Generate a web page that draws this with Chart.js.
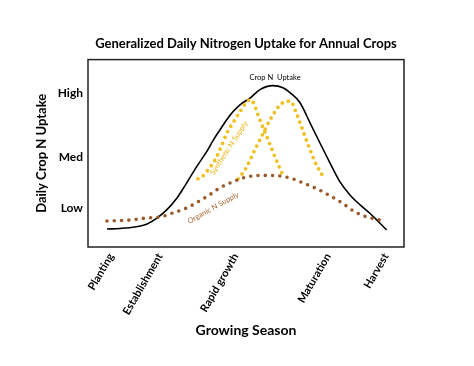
<!DOCTYPE html>
<html><head><meta charset="utf-8">
<script src="https://cdn.jsdelivr.net/npm/chart.js@4/dist/chart.umd.min.js"></script>
<style>html,body{margin:0;padding:0;background:#fff;}#wrap{width:474px;height:366px;}</style>
</head><body><div id="wrap"><canvas id="c" width="474" height="366"></canvas></div>
<script>
// ---- data ----
const xTickLabels = ['Planting', 'Establishment', 'Rapid growth', 'Maturation', 'Harvest'];
const xTickValues = [7.3, 22.8, 46.8, 76, 94.3];
const yTickLabels = ['Low', 'Med', 'High'];
const yTickValues = [21, 48, 82];

const cropX = [6.0, 10.1, 14.9, 18.7, 21.7, 24.9, 28.1, 31.2, 34.4, 37.6, 39.7, 41.8, 43.9, 46.0, 48.1, 51.3, 54.4, 58.5, 61.7, 63.9, 67.1, 70.3, 73.4, 76.6, 79.7, 82.9, 86.1, 89.2, 92.4, 94.5];
const cropY = [9.6, 9.9, 10.7, 12.3, 15.3, 19.8, 26.0, 34.1, 42.9, 51.0, 57.2, 62.6, 67.9, 72.4, 75.9, 79.5, 84.0, 86.1, 85.0, 82.4, 77.0, 66.1, 55.5, 44.8, 34.9, 27.8, 22.5, 18.0, 12.7, 9.1];

const organicX = [6.0, 13.3, 18.7, 22.8, 26.9, 31.3, 34.8, 38.0, 41.8, 45.9, 50.3, 56.6, 63.9, 68.0, 72.5, 76.6, 80.4, 84.5, 88.3, 92.4];
const organicY = [13.9, 14.4, 15.5, 16.0, 18.2, 20.9, 24.1, 27.3, 31.6, 34.8, 37.4, 38.2, 36.9, 34.2, 31.0, 27.3, 23.5, 18.7, 16.0, 14.4];

const synth1X = [34.8, 36.4, 38.0, 40.2, 42.4, 44.0, 45.9, 48.1, 50.3, 51.6, 52.5, 53.8, 55.4, 57.0, 58.5, 60.1, 61.7];
const synth1Y = [36.4, 38.0, 41.2, 46.5, 54.5, 61.0, 66.3, 72.2, 77.5, 78.6, 76.5, 70.6, 63.6, 57.2, 50.8, 44.4, 38.0];

const synth2X = [47.5, 49.7, 51.3, 52.8, 54.4, 56.0, 57.6, 59.2, 60.8, 62.3, 63.6, 64.6, 65.5, 66.5, 67.7, 68.7, 70.3, 71.8, 74.1];
const synth2Y = [36.4, 41.2, 46.5, 51.9, 57.2, 62.6, 67.9, 72.2, 75.9, 77.5, 77.8, 77.0, 73.3, 69.0, 63.6, 58.8, 51.9, 45.5, 38.5];

const labelTexts = ['Crop N  Uptake', 'Synthetic N Supply', 'Organic N Supply'];

// ---- helpers ----
const pts = (xs, ys) => xs.map((x, i) => ({x, y: ys[i]}));
const FONT = 'Lato, "Open Sans", sans-serif';

const annot = [
  {text: labelTexts[0], x: 59.2, y: 90.4, rot: 0, color: '#000', size: 7.5},
  {text: labelTexts[1], x: 44.6, y: 52.9, rot: -57, color: '#e8b210', size: 7.5},
  {text: labelTexts[2], x: 39.6, y: 20.9, rot: -29, color: '#a86c3c', size: 7.5}
];

const boxPlugin = {
  id: 'box',
  afterDraw(chart) {
    const {ctx, chartArea: a, scales} = chart;
    ctx.save();
    ctx.strokeStyle = '#222';
    ctx.lineWidth = 1.5;
    ctx.strokeRect(a.left, a.top, a.right - a.left, a.bottom - a.top);
    annot.forEach(t => {
      const px = scales.x.getPixelForValue(t.x);
      const py = scales.y.getPixelForValue(t.y);
      ctx.save();
      ctx.translate(px, py);
      ctx.rotate(t.rot * Math.PI / 180);
      ctx.fillStyle = t.color;
      ctx.font = t.size + 'px ' + FONT;
      ctx.textAlign = 'center';
      ctx.textBaseline = 'middle';
      ctx.fillText(t.text, 0, 0);
      ctx.restore();
    });
    ctx.restore();
  }
};

const dotted = (data, color, w, gap) => ({
  data, borderColor: color, borderWidth: w, borderDash: [0, gap], borderCapStyle: 'round',
  pointRadius: 0, cubicInterpolationMode: 'monotone', showLine: true, fill: false
});

new Chart(document.getElementById('c'), {
  type: 'scatter',
  data: {
    datasets: [
      dotted(pts(organicX, organicY), '#9a5a2c', 3.6, 7.3),
      dotted(pts(synth1X, synth1Y), '#f0c020', 3.8, 6.3),
      dotted(pts(synth2X, synth2Y), '#f0c020', 3.8, 6.3),
      {data: pts(cropX, cropY), borderColor: '#000', borderWidth: 1.6, pointRadius: 0,
       cubicInterpolationMode: 'monotone', showLine: true, fill: false}
    ]
  },
  options: {
    responsive: false,
    animation: false,
    layout: {padding: {left: 0, right: 70, top: 0, bottom: 0}},
    plugins: {
      legend: {display: false},
      tooltip: {enabled: false},
      title: {
        display: true, fullSize: false,
        text: 'Generalized Daily Nitrogen Uptake for Annual Crops',
        color: '#000', font: {family: FONT, size: 13, weight: 'bold'},
        padding: {top: 36, bottom: 8}
      }
    },
    scales: {
      x: {
        type: 'linear', min: 0, max: 100,
        grid: {display: false, drawTicks: false}, border: {display: false},
        afterBuildTicks: s => { s.ticks = xTickValues.map(v => ({value: v})); },
        afterFit: s => { s.height = 119; },
        ticks: {
          autoSkip: false, maxRotation: 60, minRotation: 60, padding: 4,
          color: '#000', font: {family: FONT, size: 11, weight: 'bold'},
          callback: (v, i) => xTickLabels[i]
        },
        title: {display: true, text: 'Growing Season', color: '#000',
                font: {family: FONT, size: 14, weight: 'bold'}, padding: {top: 0, bottom: 27}}
      },
      y: {
        type: 'linear', min: 0, max: 100,
        grid: {display: false, drawTicks: false}, border: {display: false},
        afterBuildTicks: s => { s.ticks = yTickValues.map(v => ({value: v})); },
        afterFit: s => { s.width = 88; },
        ticks: {
          autoSkip: false, padding: 5,
          color: '#000', font: {family: FONT, size: 12, weight: 'bold'},
          callback: (v, i) => yTickLabels[i]
        },
        title: {display: true, text: 'Daily Crop N Uptake', color: '#000',
                font: {family: FONT, size: 13, weight: 'bold'}, padding: {top: 34, bottom: 0}}
      }
    }
  },
  plugins: [boxPlugin]
});
</script>
</body></html>
